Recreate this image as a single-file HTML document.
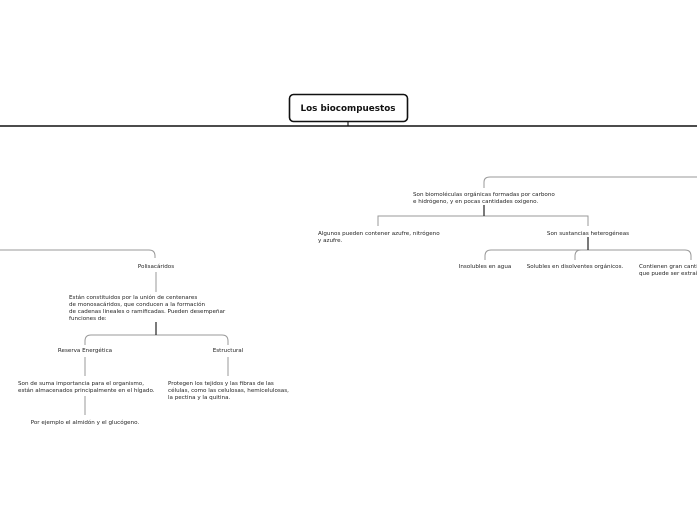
<!DOCTYPE html>
<html><head><meta charset="utf-8"><style>
body{margin:0;background:#fff;}
svg{display:block;}
text{font-family:"DejaVu Sans","Liberation Sans",sans-serif;font-size:5.6px;fill:#222;}
</style></head><body>
<svg width="697" height="520" viewBox="0 0 697 520">
<g fill="none" stroke="#999" stroke-width="1">
<path d="M484 188 V182 Q484 177 490 177 H697"/>
<path d="M378 226 V216 H588 V226"/>
<path d="M485 260 V256 Q485 250 491 250 H685 Q691 250 691 256 V260"/>
<path d="M575 260 V256 Q575 250 581 250"/>
<path d="M0 250 H149 Q155 250 155 256 V258"/>
<path d="M156 272 V292"/>
<path d="M85 345 V341 Q85 335 91 335 H222 Q228 335 228 341 V345"/>
<path d="M85 357 V376 M228 357 V376 M85 396 V415"/>
</g>
<g stroke="#222" stroke-width="1.2" fill="none">
<path d="M484 205 V216 M588 237 V250 M156 322 V335 M348 121 V126"/>
</g>
<line x1="0" y1="126" x2="697" y2="126" stroke="#111" stroke-width="1.5"/>
<rect x="289.5" y="94.5" width="118" height="27" rx="4" fill="#fff" stroke="#111" stroke-width="1.6"/>
<text x="348" y="111" text-anchor="middle" style="font-size:8.8px;font-weight:bold;fill:#111">Los biocompuestos</text>
<text x="413" y="196">Son biomoléculas orgánicas formadas por carbono</text>
<text x="413" y="203">e hidrógeno, y en pocas cantidades oxigeno.</text>
<text x="318" y="235">Algunos pueden contener azufre, nitrógeno</text>
<text x="318" y="242">y azufre.</text>
<text x="588" y="235" text-anchor="middle">Son sustancias heterogéneas</text>
<text x="485" y="268" text-anchor="middle">Insolubles en agua</text>
<text x="575" y="268" text-anchor="middle">Solubles en disolventes orgánicos.</text>
<text x="639" y="268">Contienen gran cantidad</text>
<text x="639" y="275">que puede ser extraída</text>
<text x="156" y="268" text-anchor="middle">Polisacáridos</text>
<text x="69" y="299">Están constituidos por la unión de centenares</text>
<text x="69" y="306">de monosacáridos, que conducen a la formación</text>
<text x="69" y="313">de cadenas lineales o ramificadas. Pueden desempeñar</text>
<text x="69" y="320">funciones de:</text>
<text x="85" y="352" text-anchor="middle">Reserva Energética</text>
<text x="228" y="352" text-anchor="middle">Estructural</text>
<text x="18" y="385">Son de suma importancia para el organismo,</text>
<text x="18" y="392">están almacenados principalmente en el hígado.</text>
<text x="168" y="385">Protegen los tejidos y las fibras de las</text>
<text x="168" y="392">células, como las celulosas, hemicelulosas,</text>
<text x="168" y="399">la pectina y la quitina.</text>
<text x="85" y="424" text-anchor="middle">Por ejemplo el almidón y el glucógeno.</text>
</svg>
</body></html>
